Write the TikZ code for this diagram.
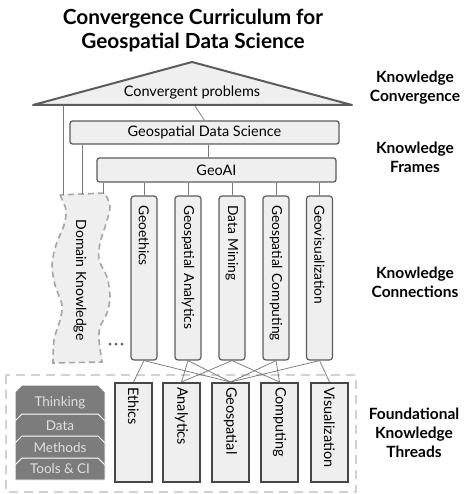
\documentclass[tikz,border=0pt]{standalone}
\usepackage{fontspec}
\setmainfont{Lato}
\usetikzlibrary{positioning}

\definecolor{boxfill}{HTML}{EFEFEF}
\definecolor{boxline}{HTML}{5C5C5C}
\definecolor{threadline}{HTML}{474747}
\definecolor{linkline}{HTML}{7A7A7A}
\definecolor{dashgray}{HTML}{D2D2D2}
\definecolor{stackfill}{HTML}{7C7C7C}

\begin{document}
\begin{tikzpicture}[x=1pt,y=-1pt,
    frame/.style={draw=boxline, line width=1.3pt, fill=boxfill, rounded corners=2.5pt,
        inner sep=0pt, font=\fontsize{14.5}{16}\selectfont},
    conn/.style={draw=boxline, line width=1.2pt, fill=boxfill, rounded corners=3pt,
        rotate=-90, minimum height=26pt, text width=146pt, inner xsep=9pt, inner ysep=0pt,
        align=left, font=\fontsize{13.8}{15}\selectfont},
    thread/.style={draw=threadline, line width=2pt, fill=boxfill,
        rotate=-90, minimum height=37pt, text width=91pt, inner xsep=4pt, inner ysep=0pt,
        align=left, font=\fontsize{14.5}{16}\selectfont},
    link/.style={draw=linkline, line width=0.75pt},
    level/.style={align=center, font=\bfseries\fontsize{15.5}{19}\selectfont},
    stack/.style={fill=stackfill, draw=white, line width=1pt},
    stacktext/.style={text=white!88!black, font=\fontsize{13.5}{15}\selectfont}
]
    %\draw [help lines, step=10] (0,0) grid (474,494);
    \useasboundingbox (0,0) rectangle (474,494);

    % title
    \node [align=center, font=\bfseries\fontsize{20.8}{24}\selectfont] (title) at (193,31)
        {Convergence Curriculum for\\Geospatial Data Science};

    % roof
    \coordinate (apex) at (192,62);
    \coordinate (eaveL) at (33,105);
    \coordinate (eaveR) at (352,105);
    \draw [draw=boxline, fill=boxfill, line width=2pt, line join=round] (eaveL) -- (apex) -- (eaveR) -- cycle;
    \draw [boxline, line width=2.6pt] (eaveL) -- (eaveR);
    \node [font=\fontsize{14.5}{16}\selectfont] (problems) at (192,92) {Convergent problems};
    \coordinate (roofbottom) at (195,106);

    % frames
    \node [frame, minimum width=269pt, minimum height=23pt] (gds) at (204.5,132.5) {Geospatial Data Science};
    \node [frame, minimum width=239pt, minimum height=24pt] (geoai) at (216.5,170) {GeoAI};
    \draw [link] (roofbottom) -- (gds.north);
    \draw [link] ([xshift=4pt]gds.south) -- ([xshift=4pt]gds.south |- geoai.north);

    % domain knowledge
    \draw [draw=black!35, fill=boxfill, line width=1.6pt, dash pattern=on 6pt off 4pt]
        plot [smooth] coordinates {(60,195) (66,210) (64,225) (56,245) (52,265) (55,285) (62,305) (60,320) (54,340) (53,363)}
        -- plot [smooth] coordinates {(102,362) (99,340) (100,327) (107,313) (110,297) (107,277) (99,260) (100,243) (105,227) (110,207) (105,193)}
        -- cycle;
    \node [rotate=-90, font=\fontsize{14}{16}\selectfont] (domain) at (80,280) {Domain Knowledge};
    \coordinate (dk1) at (63,194.5);
    \coordinate (dk2) at (82,194);
    \coordinate (dk3) at (103,193.5);
    \draw [link] (dk1 |- eaveL) -- (dk1);
    \draw [link] (dk2 |- gds.south) -- (dk2);
    \draw [link] (dk3 |- geoai.south) -- (dk3);
    \foreach \x in {110,116,122}
        \fill [boxline] (\x,344) circle [radius=1.5];

    % knowledge connections (rotated: west is the top, east the bottom)
    \node [conn] (geoethics) at (144,278) {Geoethics};
    \node [conn] (analytics) at (188,278) {Geospatial Analytics};
    \node [conn] (mining) at (232,278) {Data Mining};
    \node [conn] (computing) at (276,278) {Geospatial Computing};
    \node [conn] (geovis) at (319.5,278) {Geovisualization};
    \foreach \c in {geoethics,analytics,mining,computing,geovis}
        \draw [link] (geoai.south -| \c.west) -- (\c.west);

    % foundational threads
    \draw [dashgray, line width=2.6pt, dash pattern=on 9pt off 6pt] (6,375) rectangle (356,492);
    \node [thread] (ethics) at (133.5,432.5) {Ethics};
    \node [thread] (tanalytics) at (181.5,432.5) {Analytics};
    \node [thread] (geospatial) at (230.5,432.5) {Geospatial};
    \node [thread] (tcomputing) at (279.5,432.5) {Computing};
    \node [thread] (visual) at (329.5,432.5) {Visualization};

    \draw [link] (geoethics.east) -- (ethics.west);
    \draw [link] (geoethics.east) -- (geospatial.west);
    \draw [link] (analytics.east) -- (tanalytics.west);
    \draw [link] (analytics.east) -- (geospatial.west);
    \draw [link] (mining.east) -- (tanalytics.west);
    \draw [link] (mining.east) -- (tcomputing.west);
    \draw [link] (computing.east) -- (geospatial.west);
    \draw [link] (computing.east) -- (tcomputing.west);
    \draw [link] (geovis.east) -- (geospatial.west);
    \draw [link] (geovis.east) -- (visual.west);

    % stack of threads
    \draw [stack] (15,392) -- (22,385) -- (98,385) -- (105,392) -- (105,480) -- (15,480) -- cycle;
    \draw [stack] (15,421) -- (22,414) -- (98,414) -- (105,421) -- (105,480) -- (15,480) -- cycle;
    \draw [stack] (15,443) -- (22,436) -- (98,436) -- (105,443) -- (105,480) -- (15,480) -- cycle;
    \draw [stack] (15,465) -- (22,458) -- (98,458) -- (105,465) -- (105,480) -- (15,480) -- cycle;
    \node [stacktext] (thinking) at (60,403) {Thinking};
    \node [stacktext] (data) at (60,426) {Data};
    \node [stacktext] (methods) at (60,448) {Methods};
    \node [stacktext] (tools) at (60,469) {Tools \& CI};

    % levels
    \node [level] (lconv) at (415,88) {Knowledge\\Convergence};
    \node [level] (lframes) at (415,157) {Knowledge\\Frames};
    \node [level] (lconn) at (415,282) {Knowledge\\Connections};
    \node [level] (lthreads) at (414,433) {Foundational\\Knowledge\\Threads};
\end{tikzpicture}
\end{document}
